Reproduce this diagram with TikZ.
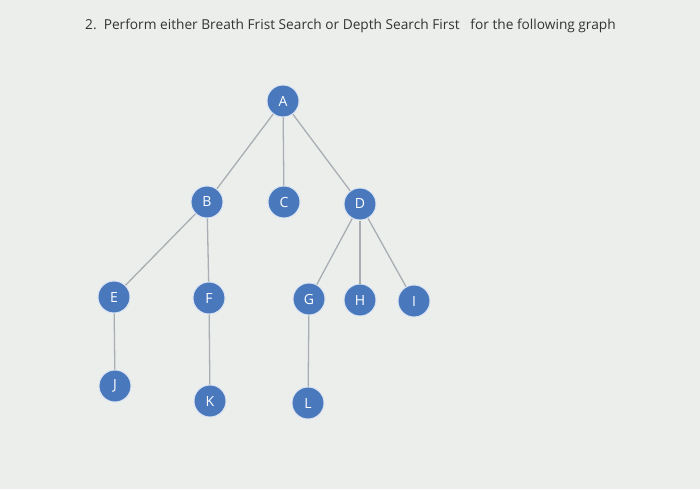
\documentclass[tikz,border=0pt]{standalone}
\usepackage{fontspec}
\setmainfont{Open Sans}
\definecolor{nodeblue}{HTML}{4A78BC}
\definecolor{edgegrey}{HTML}{A9AEB3}
\definecolor{bg}{HTML}{ECEEEC}
\begin{document}
\begin{tikzpicture}[x=1pt,y=-1pt,
  vtx/.style={circle,fill=nodeblue,draw=white!80!nodeblue,line width=1pt,minimum size=32pt,inner sep=0pt,text=white,font=\fontsize{14}{16}\selectfont},
  edge/.style={draw=edgegrey,line width=1.3pt}]
\fill[bg] (0,0) rectangle (700,489);
\useasboundingbox (0,0) rectangle (700,489);
\node[anchor=west,font=\fontsize{13.7}{16}\selectfont,text=black!80,inner sep=0pt] (title) at (85,26) {2.\ \ Perform either Breath Frist Search or Depth Search First\ \ \ for the following graph};
\node[vtx] (A) at (283,101) {A};
\node[vtx] (B) at (207,202) {B};
\node[vtx] (C) at (284,202) {C};
\node[vtx] (D) at (360,204) {D};
\node[vtx] (E) at (114,297) {E};
\node[vtx] (F) at (209,298) {F};
\node[vtx] (G) at (309,299) {G};
\node[vtx] (H) at (360,300) {H};
\node[vtx] (I) at (414,301) {I};
\node[vtx] (J) at (115,386) {J};
\node[vtx] (K) at (210,401) {K};
\node[vtx] (L) at (308,403) {L};
\foreach \a/\b in {A/B,A/C,A/D,B/E,B/F,D/G,D/H,D/I,E/J,F/K,G/L}
  \path[edge] (\a) -- (\b);
\end{tikzpicture}
\end{document}
